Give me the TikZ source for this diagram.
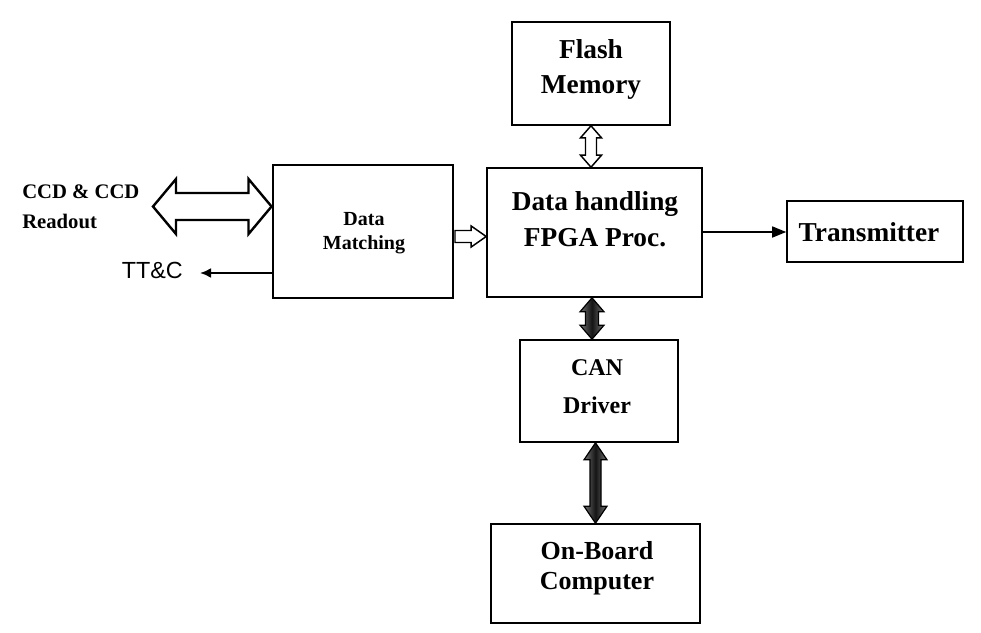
\documentclass[tikz,border=0pt]{standalone}
\usepackage{fontspec}
\setmainfont{Liberation Serif}
\newfontfamily\arialfont{Liberation Sans}
\usetikzlibrary{calc,arrows.meta,fit}
% vertical double arrow: #1 style, #2 top point, #3 bottom point, #4 shaft half, #5 head half, #6 head length (px)
\newcommand{\vdarr}[6]{%
  \path[#1] let \p1=(#2), \p2=(#3) in
    (\x1,\y1) -- (\x1+#5*0.75pt,\y1-#6*0.75pt) -- (\x1+#4*0.75pt,\y1-#6*0.75pt)
    -- (\x1+#4*0.75pt,\y2+#6*0.75pt) -- (\x1+#5*0.75pt,\y2+#6*0.75pt) -- (\x1,\y2)
    -- (\x1-#5*0.75pt,\y2+#6*0.75pt) -- (\x1-#4*0.75pt,\y2+#6*0.75pt)
    -- (\x1-#4*0.75pt,\y1-#6*0.75pt) -- (\x1-#5*0.75pt,\y1-#6*0.75pt) -- cycle;}
% horizontal double arrow
\newcommand{\hdarr}[6]{%
  \path[#1] let \p1=(#2), \p2=(#3) in
    (\x1,\y1) -- (\x1+#6*0.75pt,\y1+#5*0.75pt) -- (\x1+#6*0.75pt,\y1+#4*0.75pt)
    -- (\x2-#6*0.75pt,\y1+#4*0.75pt) -- (\x2-#6*0.75pt,\y1+#5*0.75pt) -- (\x2,\y1)
    -- (\x2-#6*0.75pt,\y1-#5*0.75pt) -- (\x2-#6*0.75pt,\y1-#4*0.75pt)
    -- (\x1+#6*0.75pt,\y1-#4*0.75pt) -- (\x1+#6*0.75pt,\y1-#5*0.75pt) -- cycle;}
% horizontal single arrow
\newcommand{\hsarr}[6]{%
  \path[#1] let \p1=(#2), \p2=(#3) in
    (\x1,\y1+#4*0.75pt) -- (\x2-#6*0.75pt,\y1+#4*0.75pt) -- (\x2-#6*0.75pt,\y1+#5*0.75pt)
    -- (\x2,\y1) -- (\x2-#6*0.75pt,\y1-#5*0.75pt) -- (\x2-#6*0.75pt,\y1-#4*0.75pt)
    -- (\x1,\y1-#4*0.75pt) -- cycle;}
\begin{document}
\begin{tikzpicture}[x=0.75pt,y=-0.75pt,
  box/.style={draw,line width=1.2pt,inner sep=0pt},
  thickbox/.style={draw,line width=2.2pt,inner sep=0pt},
  txt/.style={inner sep=0pt,align=center,anchor=north,font=\bfseries\fontsize{20.5}{27}\selectfont},
  hollow/.style={draw,line width=1.1pt,fill=white},
  hollowbig/.style={draw,line width=1.8pt,fill=white},
  dark/.style={draw=black,line width=0.9pt,left color=black!55,right color=black!55,middle color=black!92},
  conn/.style={line width=1.2pt}]
\useasboundingbox (0,0) rectangle (981,632);
\fill[white] (0,0) rectangle (981,632);

% boxes
\node[box,fit={(512,22) (670,125)}] (flash) {};
\node[box,fit={(487,168) (702,297)}] (dh) {};
\node[thickbox,fit={(273,165) (453,298)}] (dm) {};
\node[box,fit={(787,201) (963,262)}] (tx) {};
\node[box,fit={(520,340) (678,442)}] (can) {};
\node[box,fit={(491,524) (700,623)}] (obc) {};

% texts
\node[txt,font=\bfseries\fontsize{20.5}{26.3}\selectfont] (flashT) at (591,39.5) {Flash\\Memory};
\node[txt] (dhT) at (595,191.5) {Data handling\\FPGA Proc.};
\node[txt,font=\bfseries\fontsize{15}{18}\selectfont] (dmT) at (364,212.5) {Data\\Matching};
\node[txt] (txT) at (869,222.5) {Transmitter};
\node[txt,font=\bfseries\fontsize{18}{28.5}\selectfont] (canT) at (597,359.5) {CAN\\Driver};
\node[txt,font=\bfseries\fontsize{19.5}{22.5}\selectfont] (obcT) at (597,541.5) {On-Board\\Computer};
\node[inner sep=0pt,align=left,anchor=north west,font=\bfseries\fontsize{15.5}{22.5}\selectfont] (ccd) at (22,184.5) {CCD \& CCD\\Readout};
\node[inner sep=0pt,anchor=base east,font=\arialfont\fontsize{17.5}{20}\selectfont] (ttc) at (183,278) {TT\&C};

% connectors
\coordinate (ccdtip) at (153,206.5);
\hdarr{hollowbig}{ccdtip}{dm.west |- ccdtip}{13.5}{27.5}{23}
\coordinate (ttcend) at (200,273);
\draw[line width=1.6pt,-{Latex[length=11*0.75pt,width=10*0.75pt]}] (dm.west |- ttcend) -- (ttcend);
\coordinate (dmo) at (455,236.5);
\hsarr{hollow}{dmo}{dh.west |- dmo}{6}{10.5}{15}
\vdarr{hollow}{flash.south}{flash.south |- dh.north}{5.5}{10.5}{12}
\coordinate (txy) at (0,232);
\draw[conn,-{Triangle[length=14*0.75pt,width=11*0.75pt]}] (dh.east |- txy) -- (tx.west |- txy);
\coordinate (a2) at ($(dh.south)+(-2.5,0)$);
\vdarr{dark}{a2}{a2 |- can.north}{6.5}{12}{14}
\vdarr{dark}{obc.north |- can.south}{obc.north}{5.5}{11.5}{17}
\end{tikzpicture}
\end{document}
